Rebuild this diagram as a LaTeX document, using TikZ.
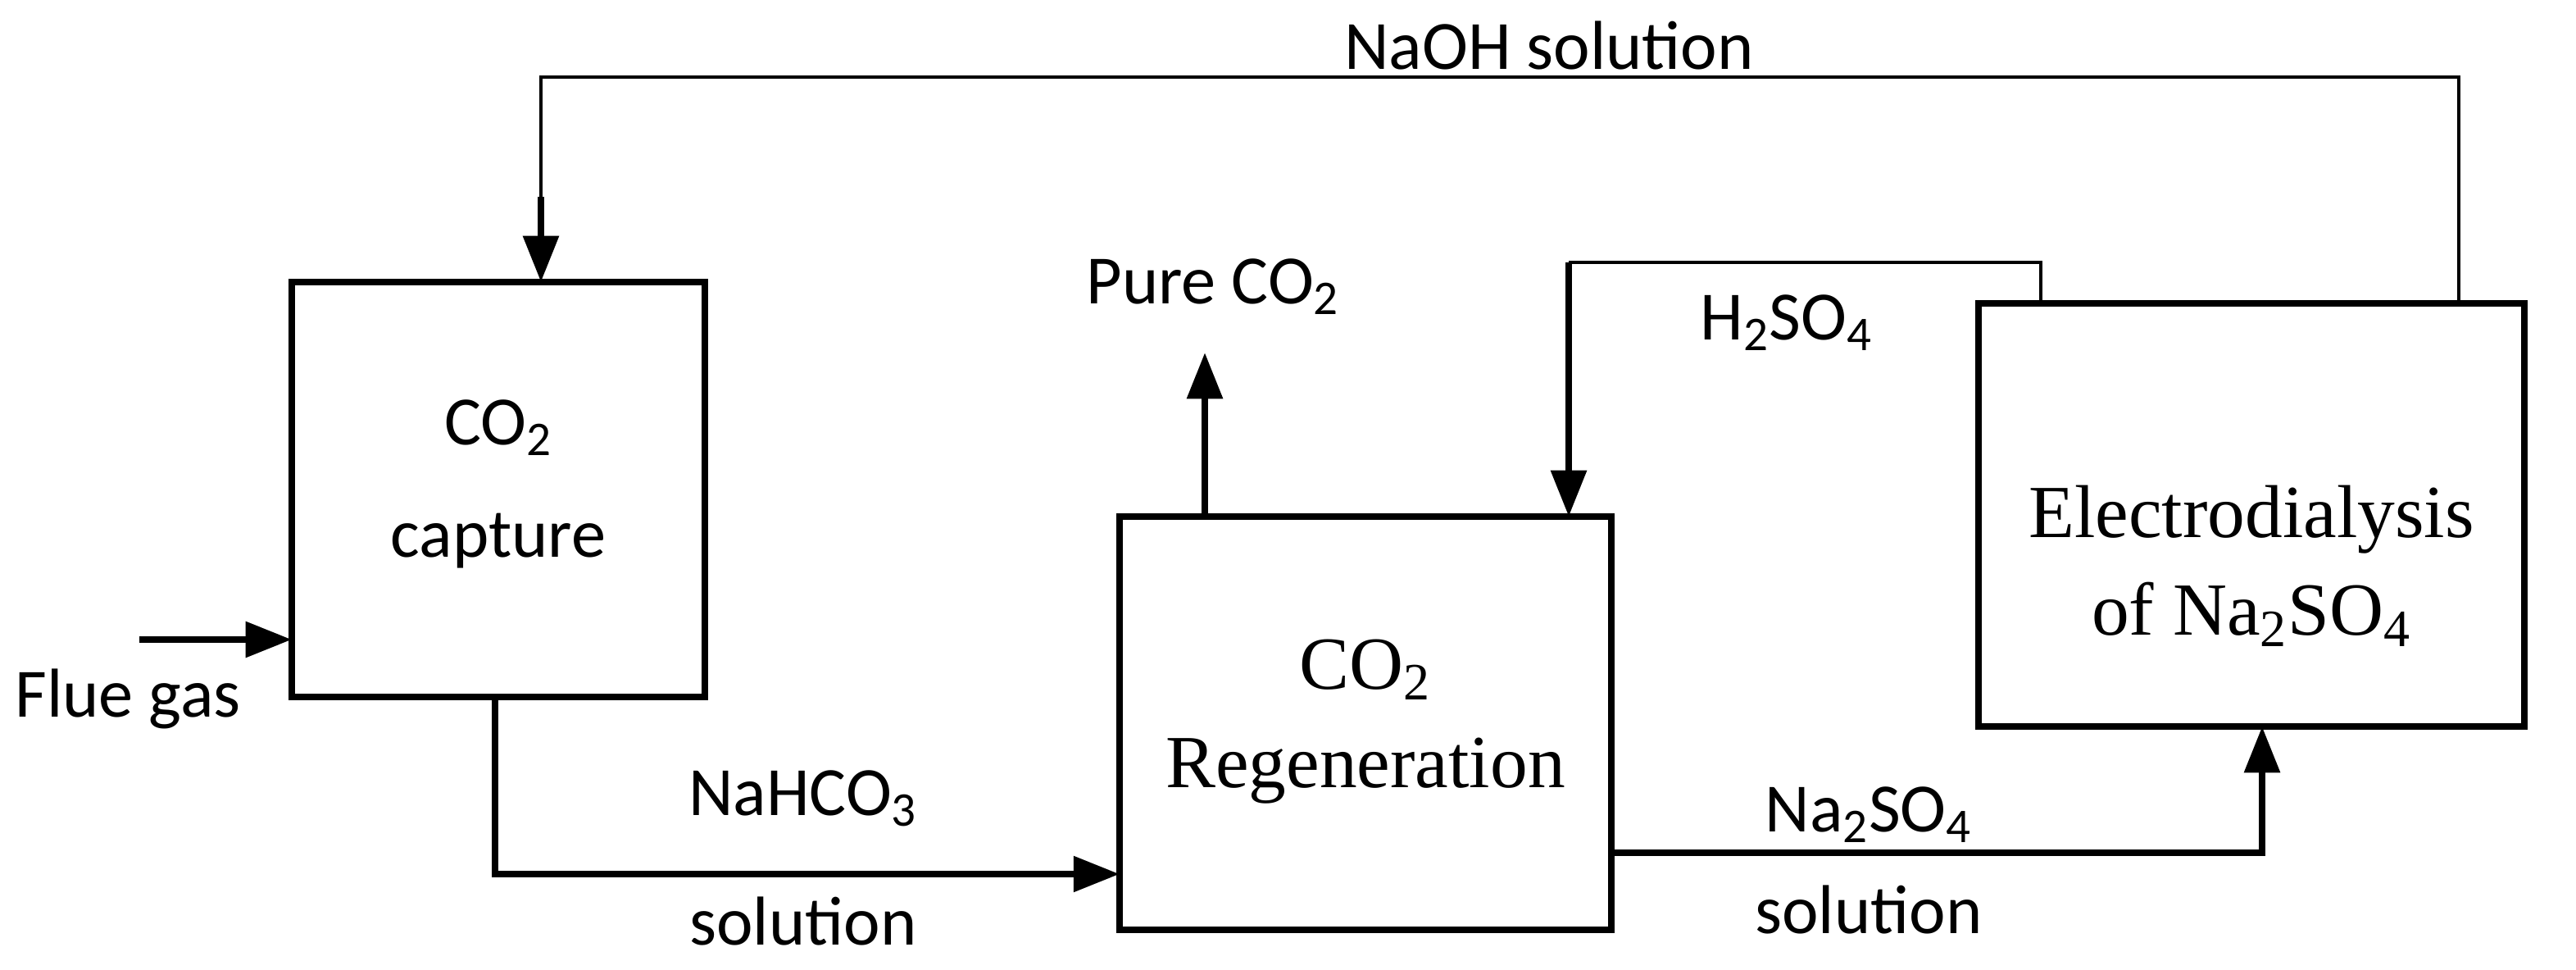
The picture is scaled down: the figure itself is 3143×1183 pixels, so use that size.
\documentclass[tikz,border=0pt]{standalone}
\usepackage{fontspec}
\setmainfont{Carlito}
\newfontfamily\serifx{Liberation Serif}
\usetikzlibrary{arrows.meta}
\begin{document}
\begin{tikzpicture}[x=0.01cm,y=-0.01cm,
  boxline/.style={line width=2.4pt},
  thin/.style={line width=1.1pt},
  thk/.style={line width=2.4pt},
  arr/.style={-{Triangle[length=16pt,width=12pt]}},
  lab/.style={font=\fontsize{24}{29}\selectfont,inner sep=0pt},
  slab/.style={font=\serifx\fontsize{26}{34}\selectfont,align=center,inner sep=0pt}]
\useasboundingbox (0,0) rectangle (3143,1183);
% boxes
\coordinate (c1a) at (356,344); \coordinate (c1b) at (860,850);
\draw[boxline] (c1a) rectangle (c1b);
\node[lab,align=center] (cap) at (608,590) {CO\textsubscript{2}\\[10pt]capture};
\coordinate (c2a) at (1366,630); \coordinate (c2b) at (1966,1134);
\draw[boxline] (c2a) rectangle (c2b);
\node[slab] (reg) at (1666,880) {CO\textsubscript{2}\\Regeneration};
\coordinate (c3a) at (2414,370); \coordinate (c3b) at (3080,886);
\draw[boxline] (c3a) rectangle (c3b);
\node[slab] (ed) at (2747,690) {Electrodialysis\\of Na\textsubscript{2}SO\textsubscript{4}};
% NaOH loop
\coordinate (n1) at (3000,370); \coordinate (n2) at (3000,94);
\coordinate (n3) at (660,94); \coordinate (n4) at (660,240); \coordinate (n5) at (660,344);
\draw[thin] (n1) -- (n2) -- (n3) -- (n4);
\draw[thk,arr] (n4) -- (n5);
\node[lab] (naoh) at (1890,56) {NaOH solution};
% H2SO4 loop
\coordinate (h1) at (2490,370); \coordinate (h2) at (2490,320);
\coordinate (h3) at (1914,320); \coordinate (h4) at (1914,630);
\draw[thin] (h1) -- (h2) -- (h3);
\draw[thk,arr] (h3) -- (h4);
\node[lab] (h2so4) at (2180,394) {H\textsubscript{2}SO\textsubscript{4}};
% Pure CO2
\coordinate (p1) at (1470,630); \coordinate (p2) at (1470,430);
\draw[thk,arr] (p1) -- (p2);
\node[lab] (pure) at (1480,350) {Pure CO\textsubscript{2}};
% Flue gas
\coordinate (f1) at (170,780); \coordinate (f2) at (356,780);
\draw[thk,arr] (f1) -- (f2);
\node[lab] (flue) at (156,852) {Flue gas};
% NaHCO3
\coordinate (b1) at (604,850); \coordinate (b2) at (604,1066); \coordinate (b3) at (1366,1066);
\draw[thk,arr] (b1) -- (b2) -- (b3);
\node[lab] (nahco3) at (980,974) {NaHCO\textsubscript{3}};
\node[lab] (sol1) at (980,1124) {solution};
% Na2SO4
\coordinate (s1) at (1966,1040); \coordinate (s2) at (2760,1040); \coordinate (s3) at (2760,886);
\draw[thk,arr] (s1) -- (s2) -- (s3);
\node[lab] (na2so4) at (2280,994) {Na\textsubscript{2}SO\textsubscript{4}};
\node[lab] (sol2) at (2280,1110) {solution};
\end{tikzpicture}
\end{document}
